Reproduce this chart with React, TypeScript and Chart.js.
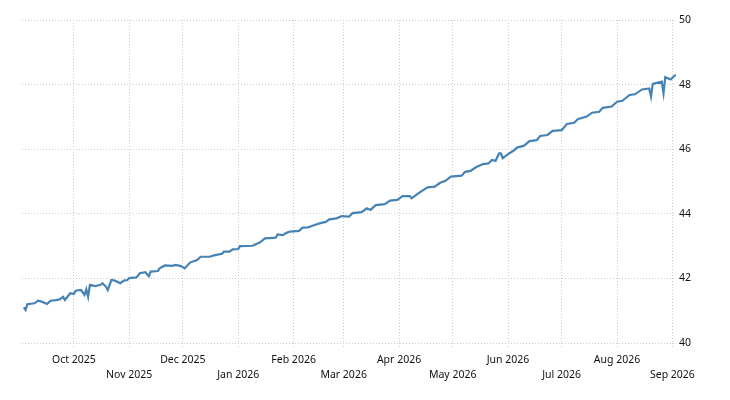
import React, { useRef, useEffect } from "react";
import { Chart, registerables } from "chart.js";

Chart.register(...registerables);

// days counted from 1 Sep 2025
const dayOffsets = [
  2, 3, 4, 8, 10, 12, 15, 17, 20, 22, 24, 25, 28, 30, 31, 34, 36, 37, 38, 39,
  42, 45, 46, 48, 49, 51, 53, 56, 58, 60, 61, 65, 67, 70, 72, 73, 77, 78, 81,
  85, 87, 90, 92, 95, 99, 101, 106, 109, 113, 114, 117, 119, 122, 123, 130,
  134, 137, 143, 144, 147, 149, 151, 156, 158, 161, 164, 168, 171, 173, 177,
  180, 184, 186, 191, 194, 196, 199, 204, 207, 211, 214, 218, 219, 222, 224,
  228, 232, 235, 238, 241, 247, 249, 252, 255, 259, 262, 264, 266, 268, 269,
  270, 273, 276, 278, 282, 285, 289, 291, 295, 298, 303, 306, 310, 312, 317,
  320, 324, 326, 331, 334, 337, 341, 344, 348, 352, 353, 354, 359, 360, 361,
  364, 366, 367,
];

const values = [
  41.1, 41.02, 41.2, 41.23, 41.31, 41.28, 41.21, 41.31, 41.33, 41.35, 41.43,
  41.33, 41.54, 41.52, 41.62, 41.64, 41.49, 41.66, 41.43, 41.8, 41.76, 41.8,
  41.85, 41.74, 41.64, 41.95, 41.93, 41.85, 41.93, 41.95, 42.01, 42.03, 42.16,
  42.19, 42.07, 42.21, 42.23, 42.31, 42.4, 42.39, 42.42, 42.38, 42.31, 42.49,
  42.57, 42.67, 42.67, 42.72, 42.76, 42.83, 42.83, 42.9, 42.91, 43.0, 43.01,
  43.11, 43.24, 43.26, 43.36, 43.34, 43.41, 43.45, 43.47, 43.57, 43.58, 43.64,
  43.71, 43.75, 43.83, 43.86, 43.93, 43.91, 44.02, 44.05, 44.17, 44.12, 44.27,
  44.3, 44.41, 44.43, 44.55, 44.55, 44.48, 44.6, 44.68, 44.82, 44.84, 44.96,
  45.02, 45.15, 45.18, 45.3, 45.33, 45.44, 45.54, 45.56, 45.67, 45.64, 45.87,
  45.87, 45.72, 45.85, 45.95, 46.05, 46.11, 46.25, 46.28, 46.41, 46.44, 46.57,
  46.59, 46.78, 46.82, 46.93, 47.01, 47.13, 47.16, 47.28, 47.32, 47.47, 47.5,
  47.68, 47.7, 47.85, 47.88, 47.63, 48.02, 48.09, 47.73, 48.23, 48.16, 48.27,
  48.3,
];

const monthStarts = [30, 61, 91, 122, 153, 181, 212, 242, 273, 303, 334, 365];
const monthLabels = [
  "Oct 2025",
  "Nov 2025",
  "Dec 2025",
  "Jan 2026",
  "Feb 2026",
  "Mar 2026",
  "Apr 2026",
  "May 2026",
  "Jun 2026",
  "Jul 2026",
  "Aug 2026",
  "Sep 2026",
];

const yTicks = [40, 42, 44, 46, 48, 50];

const FONT = "'Noto Sans', 'Open Sans', sans-serif";

const App = () => {
  const chartRef = useRef<HTMLCanvasElement>(null);
  const chartInstanceRef = useRef<Chart | null>(null);

  useEffect(() => {
    document.body.style.margin = "0";
    if (!chartRef.current) return;
    const context = chartRef.current.getContext("2d");
    if (!context) return;

    if (chartInstanceRef.current) {
      chartInstanceRef.current.destroy();
    }

    chartInstanceRef.current = new Chart(context, {
      type: "line",
      data: {
        datasets: [
          {
            data: dayOffsets.map((d, i) => ({ x: d, y: values[i] })),
            borderColor: "#4682b4",
            borderWidth: 2.2,
            pointRadius: 0,
            tension: 0,
            fill: false,
          },
        ],
      },
      options: {
        animation: false,
        responsive: false,
        maintainAspectRatio: false,
        layout: { padding: { left: 22, top: 20, right: 0, bottom: 0 } },
        plugins: {
          legend: { display: false },
          tooltip: { enabled: false },
        },
        scales: {
          x: {
            type: "linear",
            min: 1,
            max: 367,
            afterBuildTicks: (scale: any) => {
              scale.ticks = monthStarts.map((v) => ({ value: v }));
            },
            afterFit: (scale: any) => {
              scale.height = 57;
            },
            ticks: {
              autoSkip: false,
              maxRotation: 0,
              padding: 4,
              color: "#111",
              font: { family: FONT, size: 10.5, lineHeight: 1.45 },
              callback: (value: any) => {
                const i = monthStarts.indexOf(Number(value));
                if (i < 0) return "";
                return i % 2 === 0 ? monthLabels[i] : ["", monthLabels[i]];
              },
            },
            grid: {
              color: "#cccccc",
              lineWidth: 1,
              tickLength: 5,
              tickBorderDash: [1, 2],
            },
            border: { display: false, dash: [1, 2] },
          },
          y: {
            position: "right",
            min: 40,
            max: 50,
            afterBuildTicks: (scale: any) => {
              scale.ticks = yTicks.map((v) => ({ value: v }));
            },
            afterFit: (scale: any) => {
              scale.width = 54;
            },
            ticks: {
              padding: 3,
              color: "#111",
              font: { family: FONT, size: 10.5 },
            },
            grid: {
              color: "#cccccc",
              lineWidth: 1,
              drawTicks: false,
            },
            border: { display: false, dash: [1, 2] },
          },
        },
      },
    });

    return () => {
      if (chartInstanceRef.current) {
        chartInstanceRef.current.destroy();
        chartInstanceRef.current = null;
      }
    };
  }, []);

  return (
    <div style={{ width: 730, height: 400 }}>
      <canvas ref={chartRef} width={730} height={400}></canvas>
    </div>
  );
};

export default App;
